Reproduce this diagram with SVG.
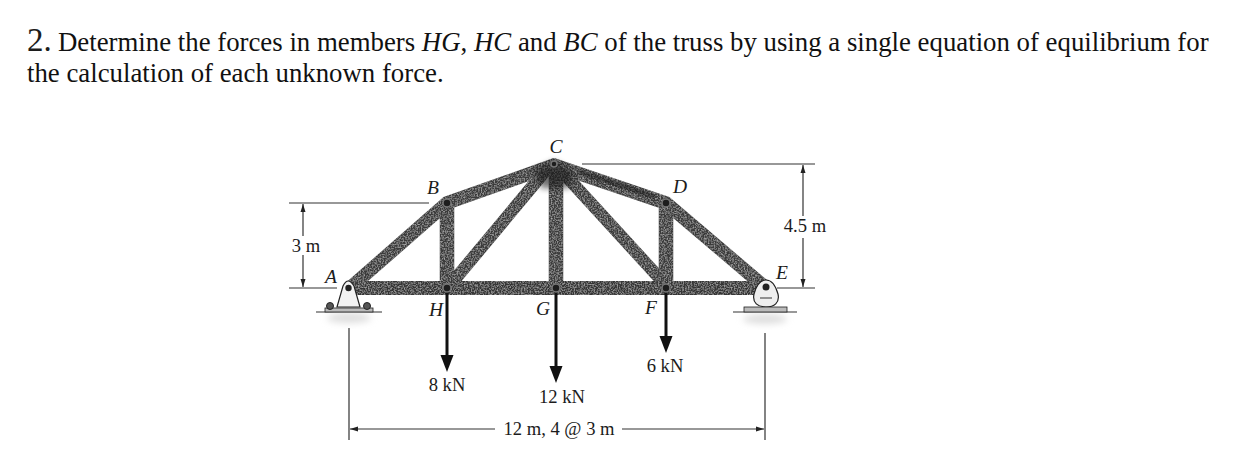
<svg xmlns="http://www.w3.org/2000/svg" width="1233" height="471" viewBox="0 0 1233 471">
<style>
text{font-family:"Liberation Serif","Times New Roman",serif;fill:#1c1c1c}
.h{font-size:26.8px;fill:#111}
.l{font-size:18.6px;text-anchor:middle}
.n{font-size:19.5px;font-style:italic;text-anchor:middle}
.m{fill:none;stroke:#3b3b3b;stroke-width:14.5;stroke-linecap:butt}
.d{fill:none;stroke:#333;stroke-width:1.2}
.a{fill:none;stroke:#111;stroke-width:3}
.p{fill:#1d1d1d;stroke:#777;stroke-width:1.5}
</style>
<defs>
<filter id="grain" x="-5%" y="-5%" width="110%" height="110%"><feTurbulence type="fractalNoise" baseFrequency="0.7" numOctaves="2" seed="4" result="t"/><feColorMatrix in="t" type="matrix" values="0 0 0 0 0.55 0 0 0 0 0.55 0 0 0 0 0.55 0 0 0 1.5 -0.62" result="n"/><feComposite in="n" in2="SourceGraphic" operator="in" result="c"/><feMerge><feMergeNode in="SourceGraphic"/><feMergeNode in="c"/></feMerge></filter>
<filter id="soft" x="-30%" y="-60%" width="160%" height="220%"><feGaussianBlur stdDeviation="3.5"/></filter>
<filter id="dark" x="-30%" y="-30%" width="160%" height="160%"><feGaussianBlur stdDeviation="3"/></filter>
<marker id="fa" markerWidth="18" markerHeight="14" refX="0" refY="7" orient="auto" markerUnits="userSpaceOnUse"><path d="M0 0.5L17 7L0 13.500Z" fill="#111"/></marker>
<marker id="da" markerWidth="8" markerHeight="6" refX="8" refY="3" orient="auto-start-reverse" markerUnits="userSpaceOnUse"><path d="M0 0.5L8 3L0 5.500Z" fill="#222"/></marker>
</defs>

<g id="heading">
<text x="27" y="51" fill="#111" style="font-size:33px">2.</text>
<text class="h" x="58" y="51">Determine the forces in members <tspan font-style="italic">HG</tspan>, <tspan font-style="italic">HC</tspan> and <tspan font-style="italic">BC</tspan> of the truss by using a single equation of equilibrium for</text>
<text class="h" x="27" y="82">the calculation of each unknown force.</text>
</g>

<g id="connectors">
<g filter="url(#grain)">
<path class="m" d="M447 205V282M556 165V282M666 205V282" />
<path class="m" style="stroke-width:12.500" d="M451 284L546 170M664 283L556 165"/>
<path class="m" style="stroke:#343434;stroke-width:14" d="M353 288H763"/>
<path class="m" style="stroke-width:13.500;stroke-linejoin:miter" d="M351 287L447 203L554 165L666 203L766 288"/>
</g>
<path d="M534 170L554 161L574 172L570 188H541Z" fill="#151515" opacity=".6" filter="url(#dark)"/>
<path d="M580 172L655 197" stroke="#151515" stroke-width="5" fill="none" opacity=".45"/>
<path class="a" d="M447 290V355" marker-end="url(#fa)"/>
<path class="a" d="M556 290V366" marker-end="url(#fa)"/>
<path class="a" d="M666 290V336" marker-end="url(#fa)"/>
<g>
<path class="d" d="M289 203H429M289 288H337M582 164H815M777 288H815"/>
<path class="d" d="M303 236V204" marker-end="url(#da)"/>
<path class="d" d="M303 255V287" marker-end="url(#da)"/>
<path class="d" d="M803 216V165" marker-end="url(#da)"/>
<path class="d" d="M803 238V287" marker-end="url(#da)"/>
<path class="d" d="M349 328V440M765 333V440"/>
<path class="d" d="M495 429H350" marker-end="url(#da)"/>
<path class="d" d="M622 429H764" marker-end="url(#da)"/>
<path class="d" d="M316 312H382M733 312H797"/>
</g>
</g>

<g id="node-A">
<ellipse cx="349" cy="318" rx="22" ry="5" fill="#ddd" filter="url(#soft)"/>
<path d="M337 307L343 286Q348 276 354 286L360 307Z" fill="#f2f2f2" stroke="#222" stroke-width="1.200"/>
<rect x="325" y="308" width="48" height="4" fill="#bbb" stroke="#222" stroke-width="0.8"/>
<circle cx="330" cy="306" r="3.500" fill="#555" stroke="#222"/><circle cx="367" cy="306" r="3.500" fill="#555" stroke="#222"/>
<circle cx="348.500" cy="288" r="3.200" fill="#222"/>
<text class="n" x="331" y="283">A</text>
</g>
<g id="node-B"><circle class="p" cx="447" cy="203" r="4"/><text class="n" x="433" y="194">B</text></g>
<g id="node-C"><circle class="p" cx="554" cy="164" r="3"/><text class="n" x="556" y="153">C</text></g>
<g id="node-D"><circle class="p" cx="666" cy="203" r="4"/><text class="n" x="680" y="193">D</text></g>
<g id="node-E">
<ellipse cx="765" cy="319" rx="22" ry="5" fill="#ddd" filter="url(#soft)"/>
<path d="M766 280C760 280 756 287 754 294C752 303 758 307 766 307C774 307 780 303 778 294C776 287 772 280 766 280Z" fill="#eee" stroke="#222" stroke-width="1.200"/>
<path d="M760 298H772" stroke="#333"/>
<rect x="744" y="307" width="43" height="5" fill="#bbb" stroke="#222" stroke-width="0.8"/>
<circle cx="766" cy="287" r="3.500" fill="#222"/>
<text class="n" x="782" y="279">E</text>
</g>
<g id="node-F"><circle class="p" cx="666" cy="288" r="4"/><text class="n" x="651" y="314">F</text></g>
<g id="node-G"><circle class="p" cx="556" cy="288" r="4"/><text class="n" x="543" y="315">G</text></g>
<g id="node-H"><circle class="p" cx="447" cy="288" r="4"/><text class="n" x="436" y="316">H</text></g>

<g id="labels">
<text class="l" x="306" y="252">3 m</text>
<text class="l" x="805" y="232">4.5 m</text>
<text class="l" x="447" y="391">8 kN</text>
<text class="l" x="562" y="403">12 kN</text>
<text class="l" x="665" y="372">6 kN</text>
<text class="l" x="559" y="435">12 m, 4 @ 3 m</text>
</g>
</svg>
